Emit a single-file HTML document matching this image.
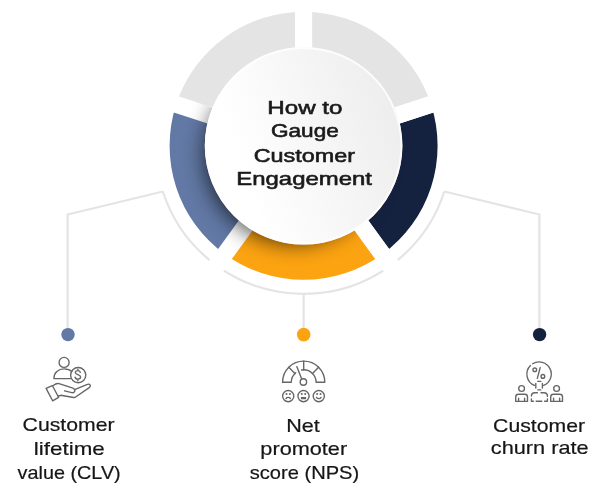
<!DOCTYPE html>
<html><head><meta charset="utf-8"><style>
html,body{margin:0;padding:0;background:#fff;}
body{width:608px;height:491px;overflow:hidden;position:relative;font-family:"Liberation Sans",sans-serif;}
svg{position:absolute;left:0;top:0;}
</style></head><body>
<svg width="608" height="491" viewBox="0 0 608 491">
<defs>
<clipPath id="sc"><polygon points="303.6,145.8 100.3,61.6 83.6,145.8 148.0,301.4 303.6,365.8 459.2,301.4 523.6,145.8 512.8,77.8"/></clipPath>
<linearGradient id="cg" x1="0.1" y1="0.65" x2="0.95" y2="0.35">
<stop offset="0.1" stop-color="#ffffff"/><stop offset="1" stop-color="#eeeeee"/>
</linearGradient>
<filter id="bl" x="-30%" y="-30%" width="160%" height="160%"><feGaussianBlur stdDeviation="11"/></filter>
</defs>
<path d="M303.60,11.80 A134.0,134.0 0 0 0 176.16,104.39 L227.52,121.08 A80.0,80.0 0 0 1 303.60,65.80 Z" fill="#e4e4e4"/>
<path d="M431.04,104.39 A134.0,134.0 0 0 0 303.60,11.80 L303.60,65.80 A80.0,80.0 0 0 1 379.68,121.08 Z" fill="#e4e4e4"/>
<path d="M382.36,254.21 A134.0,134.0 0 0 0 431.04,104.39 L379.68,121.08 A80.0,80.0 0 0 1 350.62,210.52 Z" fill="#15223f"/>
<path d="M224.84,254.21 A134.0,134.0 0 0 0 382.36,254.21 L350.62,210.52 A80.0,80.0 0 0 1 256.58,210.52 Z" fill="#fca311"/>
<path d="M176.16,104.39 A134.0,134.0 0 0 0 224.84,254.21 L256.58,210.52 A80.0,80.0 0 0 1 227.52,121.08 Z" fill="#6279a5"/>
<rect x="0" y="-8.5" width="170" height="17.0" fill="#fff" transform="translate(303.6,145.8) rotate(-90)"/>
<rect x="0" y="-8.5" width="170" height="17.0" fill="#fff" transform="translate(303.6,145.8) rotate(-18)"/>
<rect x="0" y="-8.5" width="170" height="17.0" fill="#fff" transform="translate(303.6,145.8) rotate(54)"/>
<rect x="0" y="-8.5" width="170" height="17.0" fill="#fff" transform="translate(303.6,145.8) rotate(126)"/>
<rect x="0" y="-8.5" width="170" height="17.0" fill="#fff" transform="translate(303.6,145.8) rotate(-162)"/>
<path d="M162.84,191.53 A148.0,148.0 0 0 0 444.36,191.53" fill="none" stroke="#e4e4e4" stroke-width="2.2"/>
<rect x="140" y="-9" width="20" height="18" fill="#fff" transform="translate(303.6,145.8) rotate(54)"/>
<rect x="140" y="-9" width="20" height="18" fill="#fff" transform="translate(303.6,145.8) rotate(126)"/>
<polyline points="162.84,191.53 67.6,214.5 67.6,334" fill="none" stroke="#e4e4e4" stroke-width="2.2" stroke-linejoin="miter"/><polyline points="444.36,191.53 539.4,214.5 539.4,334" fill="none" stroke="#e4e4e4" stroke-width="2.2"/><line x1="303.6" y1="293.8" x2="303.6" y2="334" stroke="#e4e4e4" stroke-width="2.2"/>
<g clip-path="url(#sc)"><circle cx="293.6" cy="154.8" r="88" fill="#000" opacity="0.75" filter="url(#bl)"/></g><rect x="0" y="-8.5" width="170" height="17.0" fill="#fff" transform="translate(303.6,145.8) rotate(-90)"/><rect x="0" y="-8.5" width="170" height="17.0" fill="#fff" transform="translate(303.6,145.8) rotate(-18)"/><rect x="0" y="-8.5" width="170" height="17.0" fill="#fff" transform="translate(303.6,145.8) rotate(54)"/><circle cx="303.6" cy="145.8" r="98.8" fill="url(#cg)"/><circle cx="303.6" cy="145.8" r="97.8" fill="none" stroke="#fff" stroke-width="2" opacity="0.8"/>
<g style="will-change:transform"><text x="267.27" y="113.7" textLength="75.15" lengthAdjust="spacingAndGlyphs" font-family="Liberation Sans" font-weight="400" font-size="19" fill="#1a1a1a" stroke="#1a1a1a" stroke-width="0.6">How to</text>
<text x="270.97" y="137.1" textLength="67.80" lengthAdjust="spacingAndGlyphs" font-family="Liberation Sans" font-weight="400" font-size="19" fill="#1a1a1a" stroke="#1a1a1a" stroke-width="0.6">Gauge</text>
<text x="253.73" y="161.7" textLength="101.23" lengthAdjust="spacingAndGlyphs" font-family="Liberation Sans" font-weight="400" font-size="19" fill="#1a1a1a" stroke="#1a1a1a" stroke-width="0.6">Customer</text>
<text x="236.29" y="185.4" textLength="135.66" lengthAdjust="spacingAndGlyphs" font-family="Liberation Sans" font-weight="400" font-size="19" fill="#1a1a1a" stroke="#1a1a1a" stroke-width="0.6">Engagement</text>
<text x="22.64" y="430.8" textLength="91.88" lengthAdjust="spacingAndGlyphs" font-family="Liberation Sans" font-weight="400" font-size="18.5" fill="#161616" stroke="#161616" stroke-width="0.2">Customer</text>
<text x="33.84" y="455.3" textLength="70.92" lengthAdjust="spacingAndGlyphs" font-family="Liberation Sans" font-weight="400" font-size="18.5" fill="#161616" stroke="#161616" stroke-width="0.2">lifetime</text>
<text x="17.60" y="478.5" textLength="103.10" lengthAdjust="spacingAndGlyphs" font-family="Liberation Sans" font-weight="400" font-size="18.5" fill="#161616" stroke="#161616" stroke-width="0.2">value (CLV)</text>
<text x="286.27" y="431.7" textLength="33.56" lengthAdjust="spacingAndGlyphs" font-family="Liberation Sans" font-weight="400" font-size="18.5" fill="#161616" stroke="#161616" stroke-width="0.2">Net</text>
<text x="260.39" y="455.2" textLength="86.77" lengthAdjust="spacingAndGlyphs" font-family="Liberation Sans" font-weight="400" font-size="18.5" fill="#161616" stroke="#161616" stroke-width="0.2">promoter</text>
<text x="249.70" y="478.5" textLength="109.52" lengthAdjust="spacingAndGlyphs" font-family="Liberation Sans" font-weight="400" font-size="18.5" fill="#161616" stroke="#161616" stroke-width="0.2">score (NPS)</text>
<text x="493.14" y="431.6" textLength="91.88" lengthAdjust="spacingAndGlyphs" font-family="Liberation Sans" font-weight="400" font-size="18.5" fill="#161616" stroke="#161616" stroke-width="0.2">Customer</text>
<text x="490.82" y="454.3" textLength="97.81" lengthAdjust="spacingAndGlyphs" font-family="Liberation Sans" font-weight="400" font-size="18.5" fill="#161616" stroke="#161616" stroke-width="0.2">churn rate</text></g>
<g fill="none" stroke="#666666" stroke-width="1.38" stroke-linecap="round" stroke-linejoin="round"><circle cx="64.1" cy="362.4" r="5.0"/><path d="M53.9,378.6 L70.6,378.6 M53.9,378.6 C53.9,372.6 58.3,368.9 64.1,368.9 C67.5,368.9 70.2,370 71.9,371.6"/><circle cx="78.2" cy="375.1" r="7.6"/><path d="M80.3,372.4 C80.1,371.1 79,370.6 77.8,370.6 C76.4,370.6 75.3,371.4 75.3,372.6 C75.3,375 80.6,374.3 80.6,377.1 C80.6,378.4 79.4,379.2 77.9,379.2 C76.5,379.2 75.3,378.5 75.1,377.2 M77.9,369.2 L77.9,370.6 M77.9,379.2 L77.9,380.7"/><path d="M46.1,388.4 L52.3,385.5 L58.6,397.3 L52.6,400.8 Z"/><path d="M53.6,385.2 C55.5,383.6 57,383.3 59,383.6 L72.2,387.9 C74.6,388.7 75.3,390.6 74.6,391.7 C74,392.7 73,392.9 71.8,392.6 L64.6,390.8"/><path d="M74.6,389.6 L87.4,384.4 C89,383.7 90.4,384.5 90.3,386 C90.2,386.8 89.8,387.2 89.2,387.6 L76,396.8 C75.2,397.4 74.5,397.6 73.6,397.5 L60.8,395.3 L58.2,396"/></g><g fill="none" stroke="#666666" stroke-width="1.38" stroke-linecap="round" stroke-linejoin="round"><path d="M282.59999999999997,382.2 A21.1,21.1 0 0 1 324.8,382.2 L316.09999999999997,382.2 A12.4,12.4 0 0 0 303.7,369.8"/><path d="M282.59999999999997,382.2 L291.3,382.2 A12.4,12.4 0 0 1 295.73,372.70"/><path d="M303.7,369.8 A12.4,12.4 0 0 0 301.55,369.99"/><path d="M288.78,367.28 L294.93,373.43"/><path d="M318.62,367.28 L312.47,373.43"/><path d="M303.70,361.10 L303.70,369.80"/><path d="M296.8,366.6 L301.5,378.4"/><circle cx="303.4" cy="382.0" r="3.2"/><circle cx="288.2" cy="396.1" r="5.6"/><circle cx="303.5" cy="396.1" r="5.6"/><circle cx="318.8" cy="396.1" r="5.6"/><path d="M286,398.5 C287,397 289.4,397 290.4,398.5"/><path d="M301.4,397.6 L305.6,397.6 L305.6,398.6 L301.4,398.6 Z" stroke-width="1.1"/><path d="M316.5,397.4 C317.5,399.1 320.1,399.1 321.1,397.4"/></g><g fill="#666666"><circle cx="286.5" cy="393.9" r="1.0"/><circle cx="289.9" cy="393.9" r="1.0"/><circle cx="301.8" cy="393.9" r="1.0"/><circle cx="305.2" cy="393.9" r="1.0"/><circle cx="317.1" cy="393.9" r="1.0"/><circle cx="320.5" cy="393.9" r="1.0"/></g><g fill="none" stroke="#666666" stroke-width="1.38" stroke-linecap="round" stroke-linejoin="round"><path d="M543.67,385.41 A12.2,12.2 0 1 0 532.63,363.75"/><path d="M530.47,365.47 A12.2,12.2 0 0 0 534.53,385.41"/><circle cx="534.8" cy="369.8" r="1.85"/><circle cx="542.9" cy="376.4" r="1.85"/><path d="M540.2,367.6 L537.3,378.4"/><path d="M537.8,381.4 L540.8,381.4 M535.8,383.4 L535.8,388 M542.4,383.4 L542.4,388 M537.8,389.9 L540.8,389.9"/><path d="M531.4,396 C531.4,393.8 532.6,392.7 534.8,392.7 L537.4,392.7 M541,392.7 L544,392.7 C546.2,392.7 547.4,393.8 547.4,396 L547.4,396.4 M531.4,399 L531.4,401.3 L533.4,401.3 M536.2,401.3 L541.8,401.3 M544.6,401.3 L547.4,401.3 L547.4,399"/><circle cx="521.6" cy="388.5" r="2.9"/><path d="M515.7,401.4 L515.7,397 C515.7,395.2 516.7,394.3 518.5,394.3 L524.7,394.3 C526.5,394.3 527.5,395.2 527.5,397 L527.5,401.4 Z M518.6,398.2 L518.6,401.4 M524.6,398.2 L524.6,401.4"/><circle cx="556.6" cy="388.5" r="2.9"/><path d="M550.7,401.4 L550.7,397 C550.7,395.2 551.7,394.3 553.5,394.3 L559.7,394.3 C561.5,394.3 562.5,395.2 562.5,397 L562.5,401.4 Z M553.6,398.2 L553.6,401.4 M559.6,398.2 L559.6,401.4"/></g>
<circle cx="68" cy="334.6" r="6.7" fill="#6279a5"/>
<circle cx="303.7" cy="334.6" r="6.8" fill="#fca311"/>
<circle cx="539.6" cy="334.6" r="6.7" fill="#15223f"/>
</svg>
</body></html>
